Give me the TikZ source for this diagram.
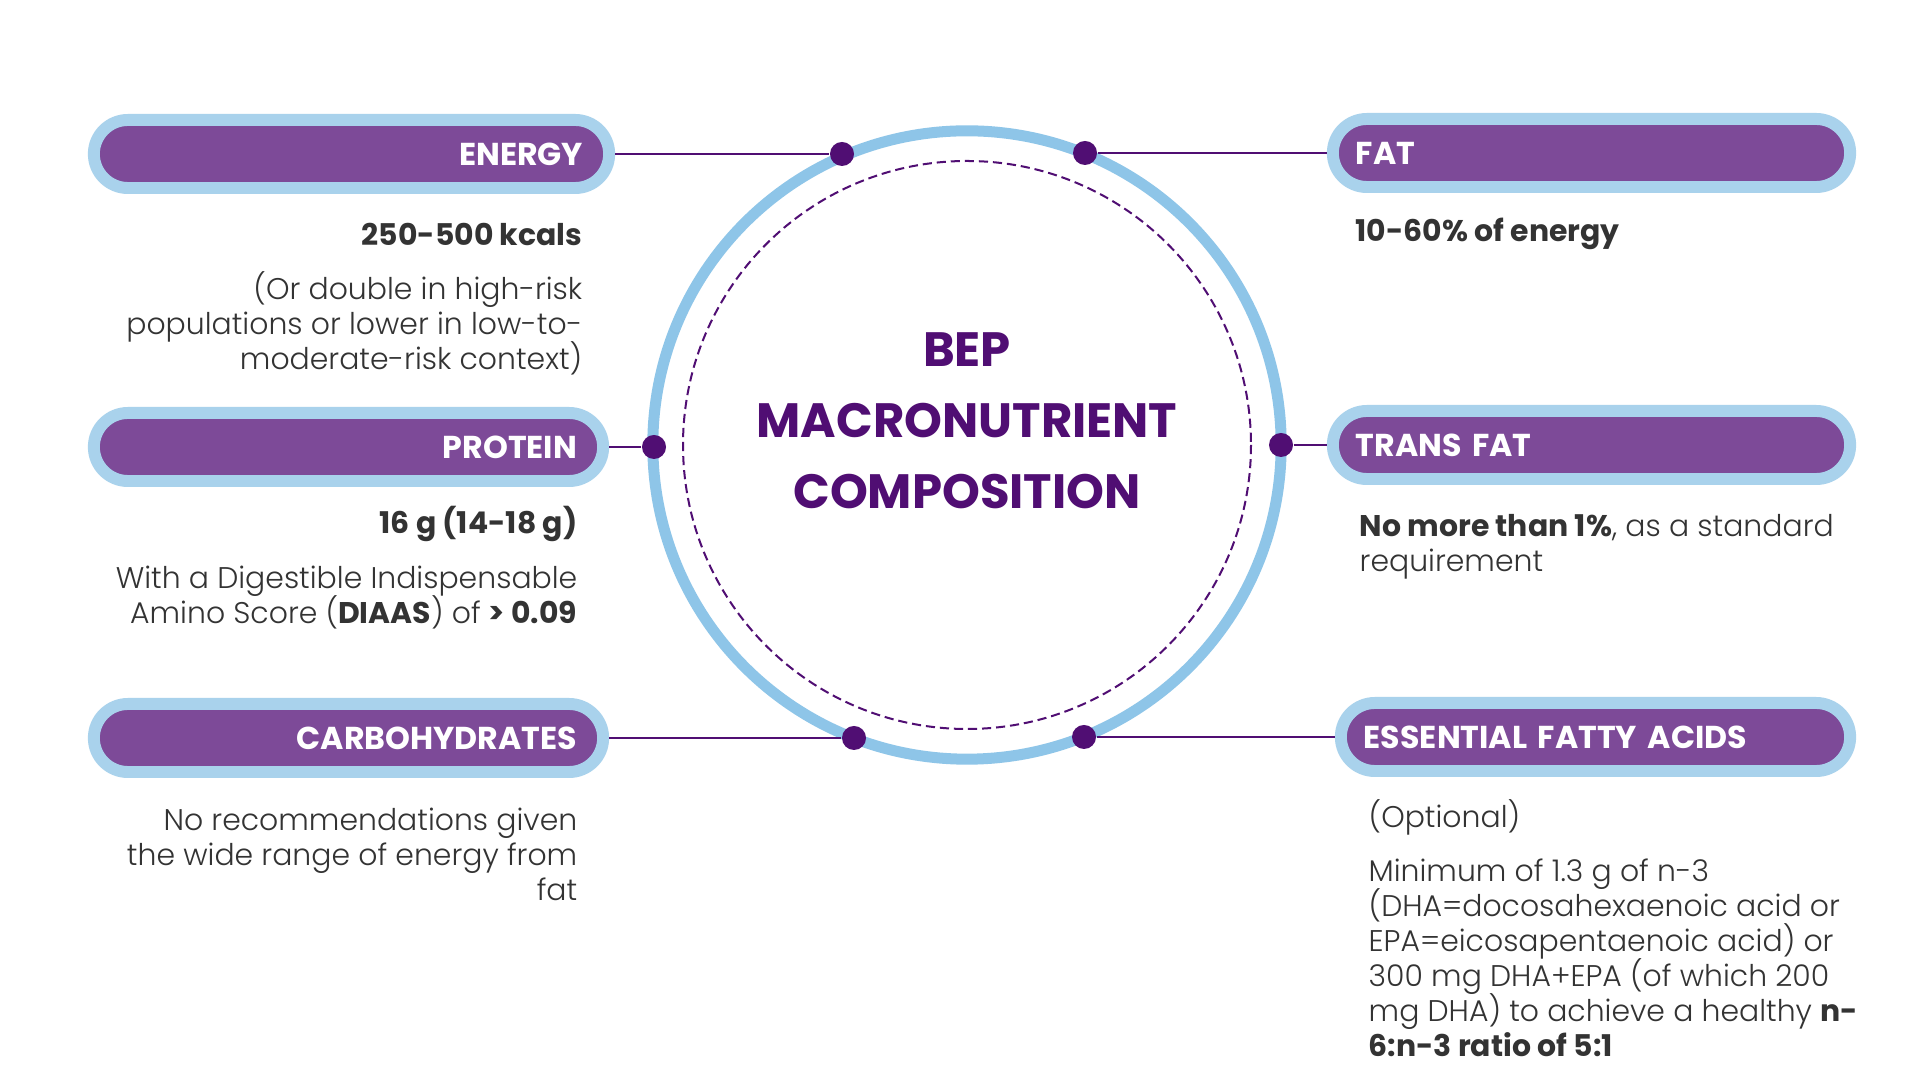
\documentclass[tikz,border=0pt]{standalone}
\usepackage{fontspec}
\setmainfont{Poppins}[UprightFont={* Light},BoldFont={* Bold}]
\usepackage{tikz}
\definecolor{pillfill}{RGB}{125,74,152}
\definecolor{pillrim}{RGB}{169,210,236}
\definecolor{ringblue}{RGB}{142,197,232}
\definecolor{plum}{RGB}{80,14,115}
\definecolor{ink}{RGB}{51,51,51}
\newcommand\notefont{\fontsize{8.5}{9.96}\selectfont\lineskiplimit=-20pt\relax}
\tikzstyle{hubdot}=[shape=circle, minimum size=0.24cm, inner sep=0, fill=plum]
\tikzstyle{pill}=[shape=rectangle, rounded corners=0.34cm, minimum height=0.68cm, fill=pillfill, draw=pillrim, line width=3.4pt, text=white, font=\bfseries\fontsize{9}{10}\selectfont, text height=6.3pt, text depth=0pt]
\tikzstyle{lpill}=[pill, inner xsep=0.26cm, align=right]
\tikzstyle{rpill}=[pill, inner xsep=0.23cm, align=left]
\tikzstyle{link}=[plum, line width=0.65pt]
\tikzstyle{note}=[text=ink, inner sep=0, font=\notefont]
\tikzstyle{lnote}=[note, anchor=east, align=right]
\tikzstyle{rnote}=[note, anchor=west, align=left]

\begin{document}
\begin{tikzpicture}[x=0.01cm, y=-0.01cm]
\fill[white] (0,0) rectangle (1920,1080);
\useasboundingbox (0,0) rectangle (1920,1080);
% centre ring
\node at (967,445) [shape=circle, minimum size=6.28cm, draw=ringblue, line width=3.13pt](hub){};
\draw[plum, line width=0.57pt, dash pattern=on 2.6pt off 1.4pt] (hub.center) circle (284);
\node at (967,421) [align=center, text=plum, font=\bfseries\fontsize{13.7}{20.2}\selectfont](title){BEP\\MACRONUTRIENT\\COMPOSITION};
% pills
\node at (351.5,154) [lpill, text width=4.63cm](energy){ENERGY};
\node at (348.5,447) [lpill, text width=4.57cm](protein){PROTEIN};
\node at (348.5,738) [lpill, text width=4.57cm](carbs){CARBOHYDRATES};
\node at (1591.5,153) [rpill, text width=4.71cm](fat){FAT};
\node at (1591.5,445) [rpill, text width=4.71cm](trans){TRANS FAT};
\node at (1595.5,737) [rpill, text width=4.63cm](efa){ESSENTIAL FATTY ACIDS};
% dots on the ring
\node at (842,154) [hubdot](d1){};
\node at (1085,153) [hubdot](d2){};
\node at (654,447) [hubdot](d3){};
\node at (1281,445) [hubdot](d4){};
\node at (854,738) [hubdot](d5){};
\node at (1084,737) [hubdot](d6){};
\draw[link] (energy)--(d1);
\draw[link] (d2)--(fat);
\draw[link] (protein)--(d3);
\draw[link] (d4)--(trans);
\draw[link] (carbs)--(d5);
\draw[link] (d6)--(efa);
% notes
\node at (583,234) [lnote](kcal){\textbf{250-500 kcals}};
\node at (583,323) [lnote](enote){(Or double in high-risk\\populations or lower in low-to-\\moderate-risk context)};
\node at (578,524) [lnote](grams){\textbf{16 g (14-18 g)}};
\node at (578,598) [lnote](pnote){With a Digestible Indispensable\\Amino Score (\textbf{DIAAS}) of \textbf{> 0.09}};
\node at (578,854) [lnote](cnote){No recommendations given\\the wide range of energy from\\fat};
\node at (1355,234) [rnote](fnote){\textbf{10-60\% of energy}};
\node at (1359,547) [rnote](tnote){\textbf{No more than 1\%}, as a standard\\requirement};
\node at (1368,817) [rnote](opt){(Optional)};
\node at (1368,957.5) [rnote](anote){Minimum of 1.3 g of n-3\\(DHA=docosahexaenoic acid or\\EPA=eicosapentaenoic acid) or\\300 mg DHA+EPA (of which 200\\mg DHA) to achieve a healthy \textbf{n-}\\\textbf{6:n-3 ratio of 5:1}};
\end{tikzpicture}
\end{document}
